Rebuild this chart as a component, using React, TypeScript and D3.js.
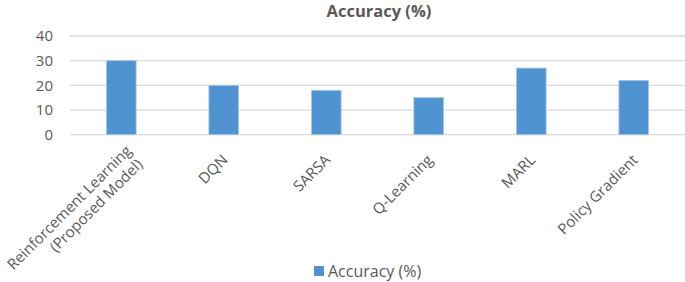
import * as d3 from 'd3'
import { useEffect, useRef } from 'react'

const categories = [
  ['Reinforcement Learning', '(Proposed Model)'],
  ['DQN'],
  ['SARSA'],
  ['Q-Learning'],
  ['MARL'],
  ['Policy Gradient'],
]
const accuracy = [30, 20, 18, 15, 27, 22]
const yTicks = [0, 10, 20, 30, 40]
const seriesName = 'Accuracy (%)'
const chartTitle = 'Accuracy (%)'

const FONT = '"Open Sans", Lato, sans-serif'
const TEXT = '#595959'
const GRID = '#d9d9d9'
const BAR = '#4f93d0'

const App = () => {
  const svgRef = useRef<SVGSVGElement>(null)

  useEffect(() => {
    const svg = d3.select(svgRef.current)
    svg.selectAll('*').remove()

    const plot = { left: 70, right: 685, top: 36, bottom: 134.7 }

    const keys = categories.map((c) => c.join(' '))
    const x = d3
      .scaleBand()
      .domain(keys)
      .range([plot.left, plot.right])
      .paddingInner(0.71)
      .paddingOuter(0.355)

    const y = d3.scaleLinear().domain([0, 40]).range([plot.bottom, plot.top])

    // title
    svg
      .append('text')
      .attr('x', 379)
      .attr('y', 16.7)
      .attr('text-anchor', 'middle')
      .style('font-family', FONT)
      .style('font-size', '16.5px')
      .style('font-weight', 'bold')
      .style('fill', TEXT)
      .text(chartTitle)

    // gridlines
    svg
      .append('g')
      .selectAll('line')
      .data(yTicks)
      .enter()
      .append('line')
      .attr('x1', plot.left)
      .attr('x2', plot.right)
      .attr('y1', (d) => y(d))
      .attr('y2', (d) => y(d))
      .attr('stroke', GRID)
      .attr('stroke-width', 1.3)

    // y labels
    svg
      .append('g')
      .selectAll('text')
      .data(yTicks)
      .enter()
      .append('text')
      .attr('x', 53)
      .attr('y', (d) => y(d))
      .attr('dy', '0.36em')
      .attr('text-anchor', 'end')
      .style('font-family', FONT)
      .style('font-size', '15px')
      .style('fill', TEXT)
      .text((d) => d)

    // bars
    svg
      .append('g')
      .selectAll('rect')
      .data(accuracy)
      .enter()
      .append('rect')
      .attr('x', (d, i) => x(keys[i]))
      .attr('y', (d) => y(d))
      .attr('width', x.bandwidth())
      .attr('height', (d) => y(0) - y(d))
      .attr('fill', BAR)
      .attr('stroke', '#a9c8e8')
      .attr('stroke-width', 0.8)

    // category labels, rotated -45
    const labels = svg
      .append('g')
      .selectAll('text')
      .data(categories)
      .enter()
      .append('text')
      .attr('text-anchor', 'end')
      .attr('transform', (d, i) => {
        const cx = x(keys[i]) + x.bandwidth() / 2
        return `translate(${cx},${plot.bottom}) rotate(-45)`
      })
      .style('font-family', FONT)
      .style('font-size', '15px')
      .style('fill', TEXT)

    labels.each(function (d) {
      const t = d3.select(this)
      if (d.length === 1) {
        t.append('tspan').attr('x', -15).attr('y', 22).text(d[0])
      } else {
        t.append('tspan').attr('x', -4).attr('y', 20).text(d[0])
        t.append('tspan').attr('x', -6).attr('y', 37.5).text(d[1])
      }
    })

    // legend
    const legend = svg.append('g')
    legend
      .append('rect')
      .attr('x', 314)
      .attr('y', 266)
      .attr('width', 10)
      .attr('height', 10)
      .attr('fill', BAR)
    legend
      .append('text')
      .attr('x', 328)
      .attr('y', 277)
      .style('font-family', FONT)
      .style('font-size', '16px')
      .style('fill', TEXT)
      .text(seriesName)
  }, [])

  return (
    <svg
      ref={svgRef}
      width={685}
      height={282}
      style={{ position: 'absolute', left: 0, top: 0, background: '#fff' }}
    ></svg>
  )
}

export default App
